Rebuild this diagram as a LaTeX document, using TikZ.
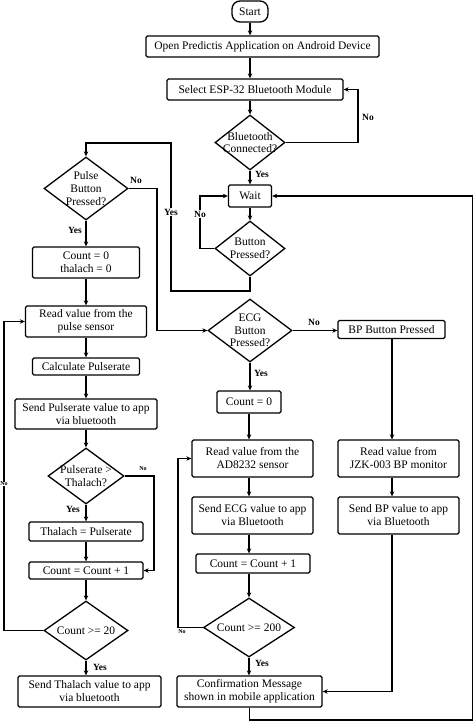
\documentclass[tikz,border=0pt]{standalone}
\usepackage{fontspec}
\setmainfont{Liberation Serif}
\usetikzlibrary{shapes.geometric,arrows.meta}
\begin{document}
\begin{tikzpicture}[x=1pt,y=-1pt,
  box/.style={draw, line width=1.3pt, rounded corners=1.5pt, inner sep=0pt, align=center, font=\fontsize{11.5}{13}\selectfont},
  dia/.style={draw, diamond, line width=1.3pt, inner sep=0pt},
  dlab/.style={align=center, font=\fontsize{11.5}{12.7}\selectfont, inner sep=0pt},
  arr/.style={line width=1.3pt, -{Stealth[length=5pt,width=4.5pt]}},
  lab/.style={font=\bfseries\fontsize{9.5}{10}\selectfont, inner sep=1pt},
  tinylab/.style={font=\bfseries\fontsize{6}{6}\selectfont, inner sep=0.5pt},
]
\fill[white] (0,0) rectangle (474,722);
\useasboundingbox (0,0) rectangle (474,722);

% top column
\node[box, rounded corners=8pt, minimum width=36, minimum height=21] (start) at (250,11.5) {Start};
\node[box, minimum width=233, minimum height=21] (open) at (262.5,46.5) {Open Predictis Application on Android Device};
\node[box, minimum width=176, minimum height=21] (select) at (255,89.5) {Select ESP-32 Bluetooth Module};
\node[dia, minimum width=70, minimum height=55, label={[dlab]center:Bluetooth\\Connected?}] (bt) at (250,142.5) {};
\node[box, minimum width=43, minimum height=22] (wait) at (250,196) {Wait};
\node[dia, minimum width=70, minimum height=55, label={[dlab]center:Button\\Pressed?}] (bp1) at (250,248.5) {};

% left column
\node[dia, minimum width=84, minimum height=63, label={[dlab]center:Pulse\\Button\\Pressed?}] (pulse) at (86,188.5) {};
\node[box, minimum width=107, minimum height=31] (cnt0) at (86,262.5) {Count = 0\\thalach = 0};
\node[box, minimum width=121, minimum height=31] (readp) at (86,321.5) {Read value from the\\pulse sensor};
\node[box, minimum width=107, minimum height=17] (calc) at (86,366.5) {Calculate Pulserate};
\node[box, minimum width=142, minimum height=30] (sendp) at (86,414) {Send Pulserate value to app\\via bluetooth};
\node[dia, minimum width=76, minimum height=56, label={[dlab]center:Pulserate >\\Thalach?}] (pgt) at (86,476) {};
\node[box, minimum width=114, minimum height=19] (thal) at (86,531.5) {Thalach = Pulserate};
\node[box, minimum width=114, minimum height=17] (cinc1) at (86,570.5) {Count = Count + 1};
\node[dia, minimum width=84, minimum height=59, label={[dlab]center:Count >= 20}] (c20) at (86,630.5) {};
\node[box, minimum width=143, minimum height=31] (sendt) at (89.5,691.5) {Send Thalach value to app\\via bluetooth};

% ECG column
\node[dia, minimum width=84, minimum height=63, label={[dlab]center:ECG\\Button\\Pressed?}] (ecg) at (250,330.5) {};
\node[box, minimum width=64, minimum height=22] (ecnt0) at (249,402) {Count = 0};
\node[box, minimum width=121, minimum height=37] (reade) at (252.5,458.5) {Read value from the\\AD8232 sensor};
\node[box, minimum width=121, minimum height=37] (sende) at (252.5,515.5) {Send ECG value to app\\via Bluetooth};
\node[box, minimum width=114, minimum height=19] (cinc2) at (253,563.5) {Count = Count + 1};
\node[dia, minimum width=91, minimum height=59, label={[dlab]center:Count >= 200}] (c200) at (249,627.5) {};
\node[box, minimum width=145, minimum height=31] (conf) at (249.5,691.5) {Confirmation Message\\shown in mobile application};

% BP column
\node[box, minimum width=107, minimum height=18] (bpb) at (391.5,329.5) {BP Button Pressed};
\node[box, minimum width=121, minimum height=37] (readbp) at (398.5,458.5) {Read value from\\JZK-003 BP monitor};
\node[box, minimum width=121, minimum height=37] (sendbp) at (398.5,515.5) {Send BP value to app\\via Bluetooth};

% coordinates
\coordinate (btno) at (358,142.5);
\coordinate (bp1no) at (200,248.5);
\coordinate (y1) at (250,291);
\coordinate (y2) at (171,291);
\coordinate (y3) at (171,143);
\coordinate (y4) at (86,143);
\coordinate (r1) at (249.5,720);
\coordinate (r2) at (472.5,720);
\coordinate (pno) at (157,188.5);
\coordinate (pgtno) at (154,476);
\coordinate (c20no) at (4,630.5);
\coordinate (ecol) at (249,0);
\coordinate (c200no) at (178,627.5);
\coordinate (bcol) at (392,0);

% top connectors
\draw[arr] (start.south) -- (start.south |- open.north);
\draw[arr] (bt |- open.south) -- (bt |- select.north);
\draw[arr] (bt |- select.south) -- (bt.north);
\draw[arr] (bt.east) -- (btno) |- (select.east);
\node[lab] (btnol) at (368,117) {No};
\draw[arr] (bt.south) -- (wait.north);
\node[lab] (btyes) at (262,174) {Yes};
\draw[arr] (wait.south) -- (bp1.north);
\draw[arr] (bp1.west) -- (bp1no) |- (wait.west);
\node[lab, fill=white] (bp1nol) at (200,214) {No};
\draw[arr] (bp1.south) -- (y1) -- (y2) -- (y3) -- (y4) -- (pulse.north);
\node[lab, fill=white] (bp1yes) at (171,212) {Yes};
\draw[arr] (conf.south) -- (r1) -- (r2) |- (wait.east);

% left connectors
\draw[arr] (pulse.south) -- (cnt0.north);
\node[lab] (pyes) at (75,230) {Yes};
\draw[arr] (pulse.east) -- (pno) |- (ecg.west);
\node[lab] (pnol) at (136,180) {No};
\draw[arr] (cnt0.south) -- (readp.north);
\draw[arr] (readp.south) -- (calc.north);
\draw[arr] (calc.south) -- (sendp.north);
\draw[arr] (sendp.south) -- (pgt.north);
\draw[arr] (pgt.south) -- (thal.north);
\node[lab] (pgtyes) at (73,509) {Yes};
\draw[arr] (thal.south) -- (cinc1.north);
\draw[arr] (pgt.east) -- (pgtno) |- (cinc1.east);
\node[tinylab] (pgtnol) at (143,469) {No};
\draw[arr] (cinc1.south) -- (c20.north);
\draw[arr] (c20.south) -- (c20.south |- sendt.north);
\node[lab] (c20yes) at (100,667) {Yes};
\draw[arr] (c20.west) -- (c20no) |- (readp.west);
\node[tinylab, fill=white] (c20nol) at (4,484) {No};

% ECG connectors
\draw[arr] (ecg.east) -- (ecg.east -| bpb.west);
\node[lab] (ecgnol) at (314,322) {No};
\draw[arr] (ecg.south) -- (ecg.south |- ecnt0.north);
\node[lab] (ecgyes) at (261,373) {Yes};
\draw[arr] (ecol |- ecnt0.south) -- (ecol |- reade.north);
\draw[arr] (ecol |- reade.south) -- (ecol |- sende.north);
\draw[arr] (ecol |- sende.south) -- (ecol |- cinc2.north);
\draw[arr] (ecol |- cinc2.south) -- (c200.north);
\draw[arr] (c200.west) -- (c200no) |- (reade.west);
\node[tinylab] (c200nol) at (182,632) {No};
\draw[arr] (c200.south) -- (c200.south |- conf.north);
\node[lab] (c200yes) at (262,663) {Yes};

% BP connectors
\draw[arr] (bcol |- bpb.south) -- (bcol |- readbp.north);
\draw[arr] (bcol |- readbp.south) -- (bcol |- sendbp.north);
\draw[arr] (bcol |- sendbp.south) |- (conf.east);
\end{tikzpicture}
\end{document}
